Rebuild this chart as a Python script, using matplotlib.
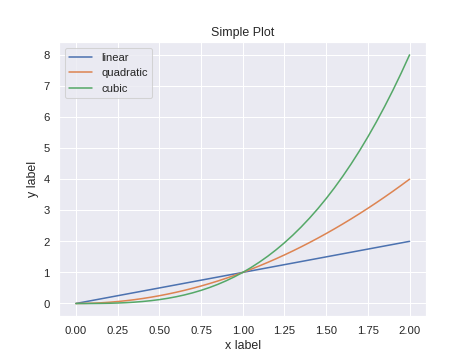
import matplotlib
matplotlib.use("Agg")
import matplotlib.pyplot as plt
import seaborn as sns

sns.set_theme()
plt.rcParams['font.family'] = ['Liberation Sans', 'DejaVu Sans']

x = [0.0, 0.05, 0.1, 0.15, 0.2, 0.25, 0.3, 0.35, 0.4, 0.45, 0.5,
     0.55, 0.6, 0.65, 0.7, 0.75, 0.8, 0.85, 0.9, 0.95, 1.0,
     1.05, 1.1, 1.15, 1.2, 1.25, 1.3, 1.35, 1.4, 1.45, 1.5,
     1.55, 1.6, 1.65, 1.7, 1.75, 1.8, 1.85, 1.9, 1.95, 2.0]
linear = [0.0, 0.05, 0.1, 0.15, 0.2, 0.25, 0.3, 0.35, 0.4, 0.45, 0.5,
          0.55, 0.6, 0.65, 0.7, 0.75, 0.8, 0.85, 0.9, 0.95, 1.0,
          1.05, 1.1, 1.15, 1.2, 1.25, 1.3, 1.35, 1.4, 1.45, 1.5,
          1.55, 1.6, 1.65, 1.7, 1.75, 1.8, 1.85, 1.9, 1.95, 2.0]
quadratic = [0.0, 0.0025, 0.01, 0.0225, 0.04, 0.0625, 0.09, 0.1225, 0.16, 0.2025, 0.25,
             0.3025, 0.36, 0.4225, 0.49, 0.5625, 0.64, 0.7225, 0.81, 0.9025, 1.0,
             1.1025, 1.21, 1.3225, 1.44, 1.5625, 1.69, 1.8225, 1.96, 2.1025, 2.25,
             2.4025, 2.56, 2.7225, 2.89, 3.0625, 3.24, 3.4225, 3.61, 3.8025, 4.0]
cubic = [0.0, 0.0001, 0.001, 0.0034, 0.008, 0.0156, 0.027, 0.0429, 0.064, 0.0911, 0.125,
         0.1664, 0.216, 0.2746, 0.343, 0.4219, 0.512, 0.6141, 0.729, 0.8574, 1.0,
         1.1576, 1.331, 1.5209, 1.728, 1.9531, 2.197, 2.4604, 2.744, 3.0486, 3.375,
         3.7239, 4.096, 4.4921, 4.913, 5.3594, 5.832, 6.3316, 6.859, 7.4149, 8.0]

fig, ax = plt.subplots(figsize=(6.4, 4.8), dpi=74)
ax.plot(x, linear, label="linear")
ax.plot(x, quadratic, label="quadratic")
ax.plot(x, cubic, label="cubic")
ax.set_xlabel("x label")
ax.set_ylabel("y label")
ax.set_title("Simple Plot")
ax.legend()

fig.savefig("out.png", dpi=74)
